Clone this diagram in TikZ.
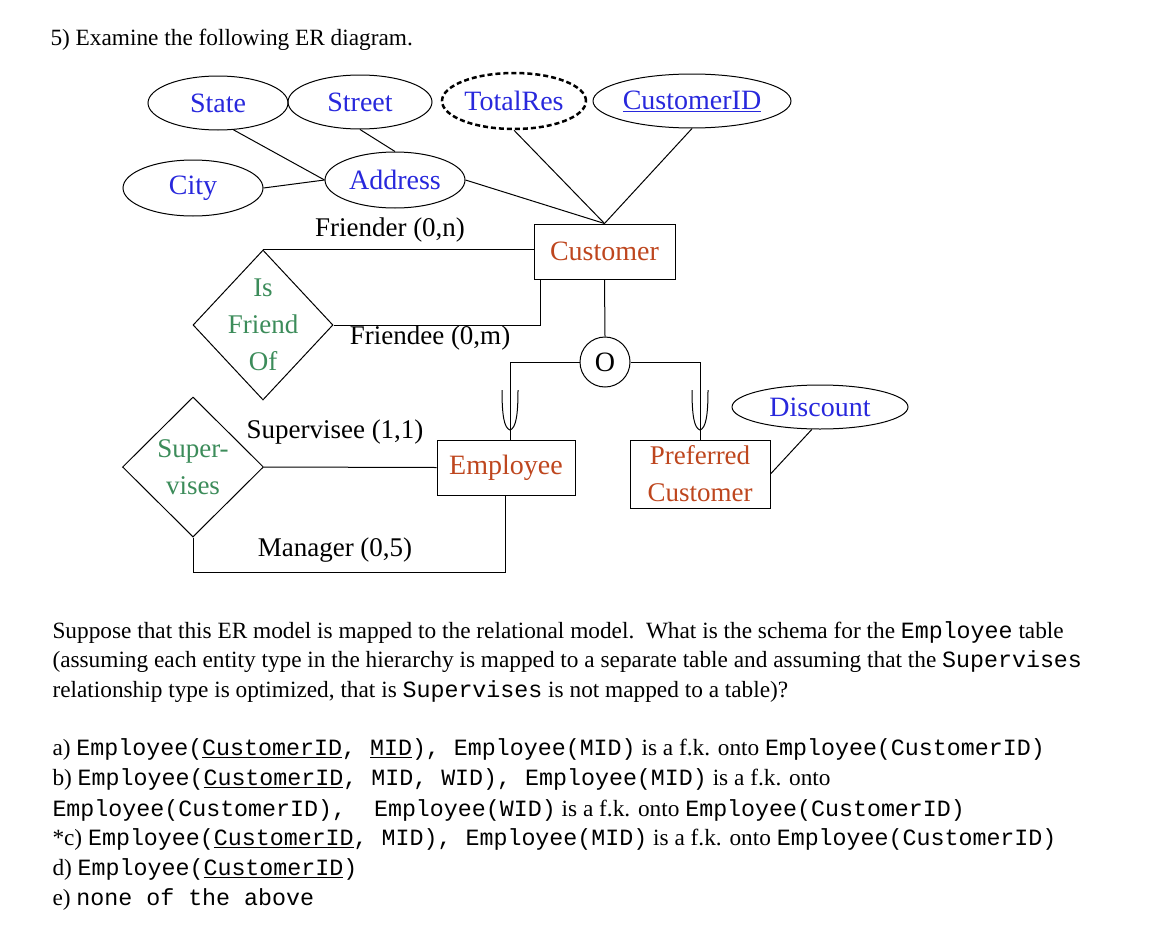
\documentclass[tikz,border=0pt]{standalone}
\usepackage{fontspec}
\setmainfont{Liberation Serif}
\setmonofont{Liberation Mono}
\usetikzlibrary{shapes.geometric}
\definecolor{attr}{RGB}{40,40,220}
\definecolor{ent}{RGB}{190,70,30}
\definecolor{rel}{RGB}{60,140,90}
\begin{document}
\begin{tikzpicture}[x=1pt,y=-1pt,
  line width=1pt,
  att/.style={ellipse,draw,inner sep=0pt,text=attr,font=\fontsize{28}{30}\selectfont},
  entb/.style={draw,inner sep=0pt,text=ent,font=\fontsize{28}{30}\selectfont,align=center},
  dia/.style={diamond,draw,inner sep=0pt},
  dtext/.style={text=rel,font=\fontsize{27}{37}\selectfont,align=center,inner sep=0pt},
  lab/.style={font=\fontsize{27}{29}\selectfont,inner sep=0pt},
  txt/.style={font=\fontsize{23.3}{26}\selectfont,anchor=west,inner sep=0pt}]
\useasboundingbox (0,0) rectangle (1150,934);
\node[txt] (title) at (50,40) {5) Examine the following ER diagram.};
% attributes
\node[att,minimum width=140,minimum height=54] (state) at (218,103) {State};
\node[att,minimum width=144,minimum height=54] (street) at (360,102) {Street};
\node[att,line width=2.5pt,dash pattern=on 5pt off 3pt,minimum width=144,minimum height=56,text=attr] (total) at (514,101) {TotalRes};
\node[att,minimum width=198,minimum height=54] (cid) at (692,101) {\underline{CustomerID}};
\node[att,minimum width=140,minimum height=56] (city) at (193,188) {City};
\node[att,minimum width=140,minimum height=56] (addr) at (395,180) {Address};
\node[att,minimum width=176,minimum height=44] (disc) at (820,407) {Discount};
% entities
\node[entb,minimum width=141,minimum height=55] (cust) at (604.5,251.5) {Customer};
\node[entb,minimum width=138,minimum height=55] (emp) at (506,467.5) {Employee};
\node[entb,minimum width=140,minimum height=68,font=\fontsize{27}{37}\selectfont] (pref) at (700,474) {Preferred\\Customer};
% relationships
\node[dia,minimum width=140,minimum height=150] (friend) at (263,325) {};
\node[dtext] (friendt) at (263,325) {Is\\Friend\\Of};
\node[dia,minimum width=141,minimum height=140] (sup) at (193,467) {};
\node[dtext] (supt) at (193,467) {Super-\\vises};
\node[circle,draw,minimum size=50,inner sep=0pt,font=\fontsize{28}{30}\selectfont] (o) at (605,362) {O};
% attribute lines
\draw (state.-60) -- (addr.west);
\draw (street.south) -- (addr.north);
\draw (city.east) -- (addr.west);
\draw (addr.east) -- (cust.north);
\draw (total.south) -- (cust.north);
\draw (cid.south) -- (cust.north);
\draw (disc.-110) -- (pref.east);
% relationship lines
\draw (friend.north) -- (friend.north -| cust.west);
\coordinate (fe) at (540,279);
\draw (friend.east) -| (fe);
\draw (cust.south) -- (o.north);
\coordinate (ec) at (510,362);
\coordinate (pc) at (700,362);
\draw (o.west) -- (ec) -- (ec |- emp.north);
\draw (o.east) -- (pc) -- (pc |- pref.north);
\draw (502,390) .. controls (502,415) and (504,428) .. (510,430) .. controls (516,428) and (518,415) .. (518,390);
\draw (692,390) .. controls (692,415) and (694,428) .. (700,430) .. controls (706,428) and (708,415) .. (708,390);
\draw (sup.east) -- (emp.west);
\coordinate (m1) at (193,572);
\coordinate (m2) at (505,572);
\draw (sup.south) -- (m1) -- (m2) -- (emp.south -| m2);
% labels
\node[lab] (l1) at (390,230) {Friender (0,n)};
\node[lab] (l2) at (430,338) {Friendee (0,m)};
\node[lab] (l3) at (335,432) {Supervisee (1,1)};
\node[lab] (l4) at (335,550) {Manager (0,5)};
% question text
\node[txt] (q1) at (52,633) {Suppose that this ER model is mapped to the relational model.\ \ What is the schema for the \texttt{Employee} table};
\node[txt] (q2) at (52,662) {(assuming each entity type in the hierarchy is mapped to a separate table and assuming that the \texttt{Supervises}};
\node[txt] (q3) at (52,692) {relationship type is optimized, that is \texttt{Supervises} is not mapped to a table)?};
\node[txt] (a) at (52,750) {a) \texttt{Employee(\underline{CustomerID},\ \underline{MID}),\ Employee(MID)} is a f.k. onto \texttt{Employee(CustomerID)}};
\node[txt] (b1) at (52,780) {b) \texttt{Employee(\underline{CustomerID},\ MID,\ WID),\ Employee(MID)} is a f.k. onto};
\node[txt] (b2) at (52,810) {\texttt{Employee(CustomerID),\ \ Employee(WID)} is a f.k. onto \texttt{Employee(CustomerID)}};
\node[txt] (c) at (52,840) {*c) \texttt{Employee(\underline{CustomerID},\ MID),\ Employee(MID)} is a f.k. onto \texttt{Employee(CustomerID)}};
\node[txt] (d) at (52,870) {d) \texttt{Employee(\underline{CustomerID})}};
\node[txt] (e) at (52,900) {e) \texttt{none of the above}};
\end{tikzpicture}
\end{document}
